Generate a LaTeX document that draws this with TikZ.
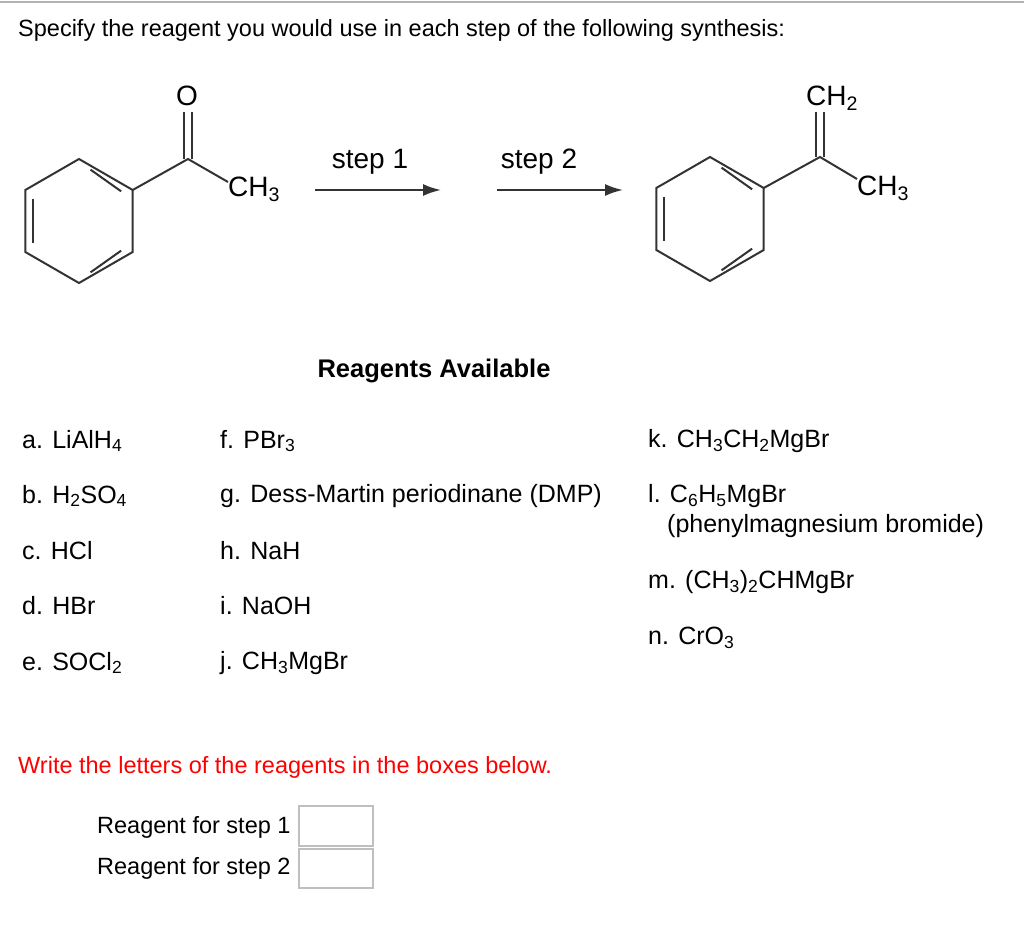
\documentclass[tikz,border=0pt]{standalone}
\usepackage{fontspec}
\setmainfont{Liberation Sans}
\usetikzlibrary{arrows.meta,calc}
\begin{document}
\begin{tikzpicture}[x=1pt,y=-1pt,
  bond/.style={line width=2pt,color=black!80},
  txt/.style={anchor=west,inner sep=0pt,font=\fontsize{23.5}{26}\selectfont},
  ltxt/.style={anchor=west,inner sep=0pt,font=\fontsize{25}{28}\selectfont},
  chem/.style={inner sep=0pt,font=\fontsize{28}{30}\selectfont},
  ansbox/.style={draw=black!25,line width=1.2pt}]
\useasboundingbox (0,0) rectangle (1024,933);
\draw[black!30,line width=2pt] (0,2) -- (1024,2);
\node[txt] (title) at (18,30) {Specify the reagent you would use in each step of the following synthesis:};
% left molecule
\foreach \n/\a in {1/90,2/30,3/-30,4/-90,5/-150,6/150}{\coordinate (L\n) at ($(79,221)+({62*cos(\a)},{-62*sin(\a)})$);}
\draw[bond] (L1)--(L2)--(L3)--(L4)--(L5)--(L6)--cycle;
\draw[bond] ($(L1)!0.15!(L2)+(3.5,6)$)--($(L1)!0.85!(L2)+(-3.5,6)$);
\draw[bond] ($(L3)!0.15!(L4)+(-3.5,-6)$)--($(L3)!0.85!(L4)+(3.5,-6)$);
\draw[bond] ($(L5)!0.15!(L6)+(8,0)$)--($(L5)!0.85!(L6)+(8,0)$);
\coordinate (LC) at (188,159);
\node[chem] (O) at (187,96) {O};
\node[chem,anchor=west] (LCH3) at (228,189) {CH\textsubscript{3}};
\draw[bond] (L2)--(LC)--(228,182);
\draw[bond] (184,159)--(184,112) (192,159)--(192,112);
% right molecule
\foreach \n/\a in {1/90,2/30,3/-30,4/-90,5/-150,6/150}{\coordinate (R\n) at ($(710,219)+({62*cos(\a)},{-62*sin(\a)})$);}
\draw[bond] (R1)--(R2)--(R3)--(R4)--(R5)--(R6)--cycle;
\draw[bond] ($(R1)!0.15!(R2)+(3.5,6)$)--($(R1)!0.85!(R2)+(-3.5,6)$);
\draw[bond] ($(R3)!0.15!(R4)+(-3.5,-6)$)--($(R3)!0.85!(R4)+(3.5,-6)$);
\draw[bond] ($(R5)!0.15!(R6)+(8,0)$)--($(R5)!0.85!(R6)+(8,0)$);
\coordinate (RC) at (820,157);
\node[chem,anchor=west] (CH2) at (806,98) {CH\textsubscript{2}};
\node[chem,anchor=west] (RCH3) at (857,188) {CH\textsubscript{3}};
\draw[bond] (R2)--(RC)--(857,179);
\draw[bond] (816,157)--(816,112) (824,157)--(824,112);
% arrows
\coordinate (a1s) at (315,190); \coordinate (a1e) at (441,190);
\coordinate (a2s) at (497,190); \coordinate (a2e) at (623,190);
\draw[bond,-{Latex[length=18pt,width=12pt]}] (a1s)--(a1e);
\draw[bond,-{Latex[length=18pt,width=12pt]}] (a2s)--(a2e);
\node[chem] (s1) at (370,162) {step 1};
\node[chem] (s2) at (539,162) {step 2};
% reagents
\node[inner sep=0pt,font=\fontsize{25.5}{28}\selectfont\bfseries] (ra) at (434,371) {Reagents Available};
\node[ltxt] (a) at (22,441) {a. LiAlH\textsubscript{4}};
\node[ltxt] (b) at (22,496) {b. H\textsubscript{2}SO\textsubscript{4}};
\node[ltxt] (c) at (22,551) {c. HCl};
\node[ltxt] (d) at (22,606) {d. HBr};
\node[ltxt] (e) at (22,663) {e. SOCl\textsubscript{2}};
\node[ltxt] (f) at (220,441) {f. PBr\textsubscript{3}};
\node[ltxt] (g) at (220,496) {g. Dess-Martin periodinane (DMP)};
\node[ltxt] (h) at (220,551) {h. NaH};
\node[ltxt] (i) at (220,606) {i. NaOH};
\node[ltxt] (j) at (220,663) {j. CH\textsubscript{3}MgBr};
\node[ltxt] (k) at (648,441) {k. CH\textsubscript{3}CH\textsubscript{2}MgBr};
\node[ltxt] (l) at (648,496) {l. C\textsubscript{6}H\textsubscript{5}MgBr};
\node[ltxt] (l2) at (667,526) {(phenylmagnesium bromide)};
\node[ltxt] (m) at (648,582) {m. (CH\textsubscript{3})\textsubscript{2}CHMgBr};
\node[ltxt] (n) at (648,638) {n. CrO\textsubscript{3}};
\node[txt,text=red] (w) at (18,767) {Write the letters of the reagents in the boxes below.};
\node[txt] (r1) at (97,827) {Reagent for step 1};
\node[txt] (r2) at (97,868) {Reagent for step 2};
\draw[ansbox] (299,806) rectangle (373,846);
\draw[ansbox] (299,849) rectangle (373,888);
\end{tikzpicture}
\end{document}
